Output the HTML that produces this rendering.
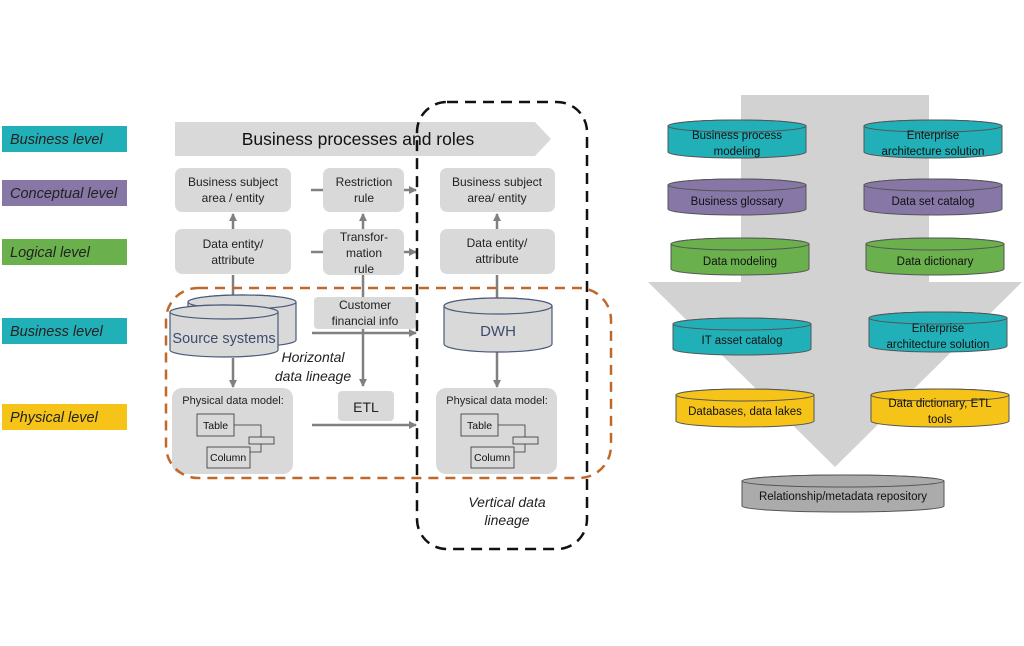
<!DOCTYPE html>
<html><head><meta charset="utf-8"><style>
html,body{margin:0;padding:0;background:#fff}
svg{display:block}
text{font-family:"Liberation Sans",sans-serif}
</style></head><body>
<svg width="1024" height="646" viewBox="0 0 1024 646" xmlns="http://www.w3.org/2000/svg">
<defs>
<marker id="ah" markerWidth="8" markerHeight="8" refX="7" refY="4" orient="auto" markerUnits="userSpaceOnUse">
<path d="M0,0 L8,4 L0,8 Z" fill="#808080"/></marker>
</defs>
<path d="M741,95 H929 V282 H1022 L835,467 L648,282 H741 Z" fill="#d3d2d3"/>

<g font-style="italic" font-size="14.5" fill="#222">
<rect x="2" y="126" width="125" height="26" fill="#22b0b8"/><text x="10" y="144">Business level</text>
<rect x="2" y="180" width="125" height="26" fill="#8677a6"/><text x="10" y="198">Conceptual level</text>
<rect x="2" y="239" width="125" height="26" fill="#6ab04c"/><text x="10" y="257">Logical level</text>
<rect x="2" y="318" width="125" height="26" fill="#22b0b8"/><text x="10" y="336">Business level</text>
<rect x="2" y="404" width="125" height="26" fill="#f6c319"/><text x="10" y="422">Physical level</text>
</g>

<path d="M175,122 H535 L551,139 L535,156 H175 Z" fill="#d9d9d9"/>
<text x="358" y="145" font-size="17.5" text-anchor="middle" fill="#111">Business processes and roles</text>

<g stroke="#808080" stroke-width="2.5" fill="none">
<line x1="233" y1="229" x2="233" y2="214" marker-end="url(#ah)"/>
<line x1="233" y1="297" x2="233" y2="275"/>
<line x1="233" y1="358" x2="233" y2="387" marker-end="url(#ah)"/>
<line x1="363" y1="229" x2="363" y2="214" marker-end="url(#ah)"/>
<line x1="363" y1="297" x2="363" y2="275"/>
<line x1="363" y1="329" x2="363" y2="386" marker-end="url(#ah)"/>
<line x1="497" y1="229" x2="497" y2="214" marker-end="url(#ah)"/>
<line x1="497" y1="298" x2="497" y2="275"/>
<line x1="497" y1="352" x2="497" y2="387" marker-end="url(#ah)"/>
<line x1="311" y1="190" x2="323" y2="190"/>
<line x1="311" y1="252" x2="323" y2="252"/>
<line x1="404" y1="190" x2="416" y2="190" marker-end="url(#ah)"/>
<line x1="404" y1="252" x2="416" y2="252" marker-end="url(#ah)"/>
<line x1="312" y1="333" x2="416" y2="333" marker-end="url(#ah)"/>
<line x1="312" y1="425" x2="416" y2="425" marker-end="url(#ah)"/>
</g>

<g fill="#d9d9d9">
<rect x="175" y="168" width="116" height="44" rx="7"/>
<rect x="323" y="168" width="81" height="44" rx="7"/>
<rect x="440" y="168" width="115" height="44" rx="7"/>
<rect x="175" y="229" width="116" height="45" rx="7"/>
<rect x="323" y="229" width="81" height="46" rx="7"/>
<rect x="440" y="229" width="115" height="45" rx="7"/>
<rect x="314" y="297" width="102" height="32" rx="4"/>
<rect x="338" y="391" width="56" height="30" rx="4"/>
<rect x="172" y="388" width="121" height="86" rx="10"/>
<rect x="436" y="388" width="121" height="86" rx="10"/>
</g>
<g font-size="12" fill="#222" text-anchor="middle">
<text x="233" y="186">Business subject</text><text x="233" y="202">area / entity</text>
<text x="364" y="186">Restriction</text><text x="364" y="202">rule</text>
<text x="497" y="186">Business subject</text><text x="497" y="202">area/ entity</text>
<text x="233" y="248">Data entity/</text><text x="233" y="264">attribute</text>
<text x="364" y="241">Transfor-</text><text x="364" y="257">mation</text><text x="364" y="273">rule</text>
<text x="497" y="247">Data entity/</text><text x="497" y="263">attribute</text>
<text x="365" y="309">Customer</text><text x="365" y="325">financial info</text>
<text x="366" y="412" font-size="14">ETL</text>
<text x="233" y="404" font-size="11">Physical data model:</text>
<text x="497" y="404" font-size="11">Physical data model:</text>
</g>
<g fill="none" stroke="#333" stroke-width="0.8">
<rect x="197" y="414" width="37" height="22"/><rect x="207" y="447" width="43" height="21"/>
<rect x="249" y="437" width="25" height="7"/>
<path d="M234,425 H261 V437 M261,444 V452 H250"/>
<rect x="461" y="414" width="37" height="22"/><rect x="471" y="447" width="43" height="21"/>
<rect x="513" y="437" width="25" height="7"/>
<path d="M498,425 H525 V437 M525,444 V452 H514"/>
</g>
<g font-size="10.5" fill="#111">
<text x="203" y="429">Table</text><text x="210" y="461">Column</text>
<text x="467" y="429">Table</text><text x="474" y="461">Column</text>
</g>

<g stroke="#4a5a7a" stroke-width="1.2" fill="#d9d9d9">
<path d="M188,302 A54,7 0 0 1 296,302 V340 A54,7 0 0 1 188,340 Z"/>
<ellipse cx="242" cy="302" rx="54" ry="7"/>
<path d="M170,312 A54,7 0 0 1 278,312 V350 A54,7 0 0 1 170,350 Z"/>
<ellipse cx="224" cy="312" rx="54" ry="7"/>
<path d="M444,306 A54,8 0 0 1 552,306 V344 A54,8 0 0 1 444,344 Z"/>
<ellipse cx="498" cy="306" rx="54" ry="8"/>
</g>
<text x="224" y="343" font-size="14.5" fill="#3c4c6c" text-anchor="middle">Source systems</text>
<text x="498" y="336" font-size="15" fill="#3c4c6c" text-anchor="middle">DWH</text>

<rect x="166" y="288" width="445" height="190" rx="32" fill="none" stroke="#c0682a" stroke-width="2.5" stroke-dasharray="10,7"/>
<rect x="417" y="102" width="170" height="447" rx="30" fill="none" stroke="#111" stroke-width="2.5" stroke-dasharray="11,7"/>
<g font-style="italic" font-size="14" fill="#222" text-anchor="middle">
<text x="313" y="362">Horizontal</text><text x="313" y="381">data lineage</text>
<text x="507" y="507">Vertical data</text><text x="507" y="525">lineage</text>
</g>

<g stroke="#555" stroke-width="1">
<g fill="#22b0b8">
<path d="M668,126 A69,6 0 0 1 806,126 V152 A69,6 0 0 1 668,152 Z"/><ellipse cx="737" cy="126" rx="69" ry="6"/>
<path d="M864,126 A69,6 0 0 1 1002,126 V152 A69,6 0 0 1 864,152 Z"/><ellipse cx="933" cy="126" rx="69" ry="6"/>
<path d="M673,324 A69,6 0 0 1 811,324 V349 A69,6 0 0 1 673,349 Z"/><ellipse cx="742" cy="324" rx="69" ry="6"/>
<path d="M869,318 A69,6 0 0 1 1007,318 V346 A69,6 0 0 1 869,346 Z"/><ellipse cx="938" cy="318" rx="69" ry="6"/>
</g>
<g fill="#8677a6">
<path d="M668,185 A69,6 0 0 1 806,185 V209 A69,6 0 0 1 668,209 Z"/><ellipse cx="737" cy="185" rx="69" ry="6"/>
<path d="M864,185 A69,6 0 0 1 1002,185 V209 A69,6 0 0 1 864,209 Z"/><ellipse cx="933" cy="185" rx="69" ry="6"/>
</g>
<g fill="#6ab04c">
<path d="M671,244 A69,6 0 0 1 809,244 V269 A69,6 0 0 1 671,269 Z"/><ellipse cx="740" cy="244" rx="69" ry="6"/>
<path d="M866,244 A69,6 0 0 1 1004,244 V269 A69,6 0 0 1 866,269 Z"/><ellipse cx="935" cy="244" rx="69" ry="6"/>
</g>
<g fill="#f6c319">
<path d="M676,395 A69,6 0 0 1 814,395 V421 A69,6 0 0 1 676,421 Z"/><ellipse cx="745" cy="395" rx="69" ry="6"/>
<path d="M871,395 A69,6 0 0 1 1009,395 V421 A69,6 0 0 1 871,421 Z"/><ellipse cx="940" cy="395" rx="69" ry="6"/>
</g>
<g fill="#ababab">
<path d="M742,481 A101,6 0 0 1 944,481 V506 A101,6 0 0 1 742,506 Z"/><ellipse cx="843" cy="481" rx="101" ry="6"/>
</g>
</g>
<g font-size="11.5" fill="#111" text-anchor="middle">
<text x="737" y="139">Business process</text><text x="737" y="155">modeling</text>
<text x="933" y="139">Enterprise</text><text x="933" y="155">architecture solution</text>
<text x="737" y="205">Business glossary</text>
<text x="933" y="205">Data set catalog</text>
<text x="740" y="265">Data modeling</text>
<text x="935" y="265">Data dictionary</text>
<text x="742" y="344">IT asset catalog</text>
<text x="938" y="332">Enterprise</text><text x="938" y="348">architecture solution</text>
<text x="745" y="415">Databases, data lakes</text>
<text x="940" y="407">Data dictionary,  ETL</text><text x="940" y="423">tools</text>
<text x="843" y="500">Relationship/metadata repository</text>
</g>
</svg>
</body></html>
